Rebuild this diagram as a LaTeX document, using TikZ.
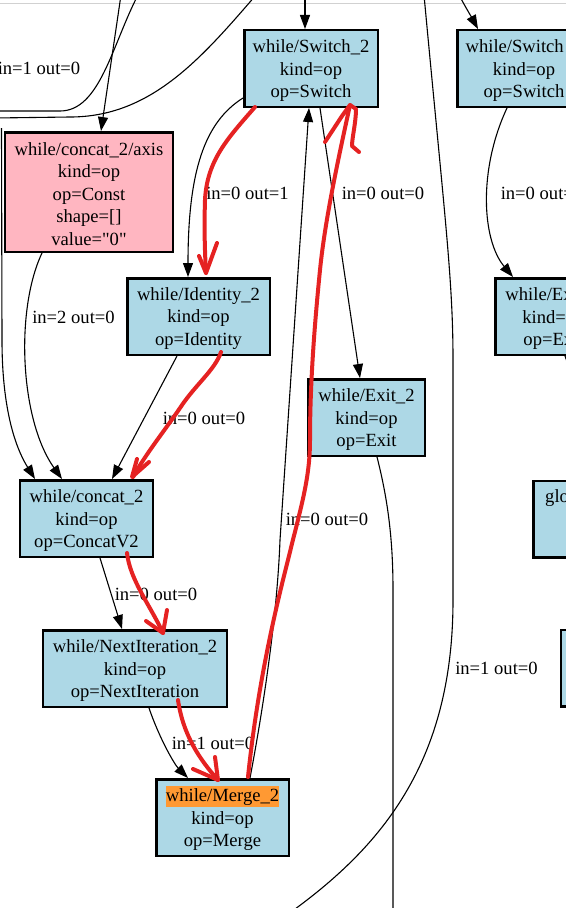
\documentclass[tikz,border=0pt]{standalone}
\usepackage{fontspec}
\setmainfont{Liberation Serif}[Ligatures=TeXOff]
\usetikzlibrary{arrows.meta,calc}
\definecolor{nodeblue}{HTML}{ADD8E6}
\definecolor{nodepink}{HTML}{FFB6C1}
\definecolor{hlorange}{HTML}{FF9933}
\definecolor{penred}{HTML}{E52222}
\setlength{\fboxsep}{0pt}
\newcommand{\tstr}{\rule{0pt}{17bp}}
\begin{document}
\begin{tikzpicture}[x=1bp,y=-1bp,
  opnode/.style={draw=black, line width=2.5bp, fill=nodeblue, align=center, inner sep=0pt,
    minimum height=76.5bp, font=\fontsize{18.6bp}{22.5bp}\selectfont},
  constnode/.style={opnode, fill=nodepink},
  lbl/.style={inner sep=0pt, font=\fontsize{18.6bp}{22.5bp}\selectfont},
  edge/.style={draw=black, line width=1.1bp, -{Triangle[length=14bp,width=10bp]}},
  plainedge/.style={draw=black, line width=1.1bp},
  pen/.style={draw=penred, line width=4bp, line cap=round, line join=round},
]
\useasboundingbox (0,0) rectangle (566,908);
\clip (0,0) rectangle (566,908);
\fill[white] (0,0) rectangle (566,908);
\draw[line width=1bp, draw=black!18] (0,3.5) -- (566,3.5);

% ---------- nodes ----------
\node[opnode, minimum width=133.5bp] (sw2) at (311,68.5) {\tstr while/Switch\_2\\kind=op\\op=Switch};
\node[opnode, minimum width=133.5bp] (sw3) at (524,68.5) {\tstr while/Switch\phantom{\_3}\\kind=op\\op=Switch};
\node[constnode, minimum width=167.5bp, minimum height=119.5bp] (axis) at (89,192) {\tstr while/concat\_2/axis\\kind=op\\op=Const\\shape=[]\\value="0"};
\node[opnode, minimum width=142.5bp] (id2) at (198.5,316.5) {\tstr while/Identity\_2\\kind=op\\op=Identity};
\node[opnode, minimum width=116.5bp] (ex3) at (553.5,316.5) {\tstr while/Ex\phantom{it\_3}\\kind=\phantom{op}\\op=Ex\phantom{it}};
\node[opnode, minimum width=116.5bp] (ex2) at (366.5,417.5) {\tstr while/Exit\_2\\kind=op\\op=Exit};
\node[opnode, minimum width=132.5bp] (c2) at (86.5,518.5) {\tstr while/concat\_2\\kind=op\\op=ConcatV2};
\node[opnode, minimum width=165bp] (glo) at (616,519) {};
\node[lbl, anchor=west] (glotxt) at (545,498) {glo};
\node[opnode, minimum width=183.5bp] (ni2) at (135,668.5) {\tstr while/NextIteration\_2\\kind=op\\op=NextIteration};
\node[opnode, minimum width=140bp] (n4) at (631,668) {};
\node[opnode, minimum width=132.5bp] (mg2) at (222.5,817.5) {\tstr\colorbox{hlorange}{\rule[-5bp]{0pt}{20.5bp}while/Merge\_2}\\kind=op\\op=Merge};

% ---------- free ends ----------
\coordinate (tA) at (121,-5);
\coordinate (tB) at (305,-5);
\coordinate (tC) at (459,-5);
\coordinate (tD) at (424,-5);
\coordinate (tE) at (138,-5);
\coordinate (tF) at (256,-5);
\coordinate (lA) at (-5,111);
\coordinate (lB) at (-5,118);
\coordinate (lC) at (1.5,128);
\coordinate (bD) at (265,930);
\coordinate (bE) at (393,915);
\coordinate (rE) at (572,375);

% ---------- black connectors ----------
\draw[plainedge] (tE) .. controls (112,45) and (100,111) .. (60,111) -- (lA);
\draw[plainedge] (tF) .. controls (200,60) and (150,117) .. (70,117) -- (lB);
\draw[edge] (tA) -- ($(axis.north)+(12,0)$);
\draw[edge] (tB) -- (tB |- sw2.north);
\draw[edge] (tC) .. controls (466,8) and (472,18) .. ($(sw3.north)+(-46,0)$);
\draw[plainedge] (tD) .. controls (445,220) and (453,280) .. (453,360) -- (453,600)
   .. controls (453,775) and (370,860) .. (bD);
\draw[edge] ($(sw2.south west)+(0,-10)$) .. controls (205,122) and (188,170) .. ($(id2.north)+(-10.5,0)$);
\draw[edge] ($(sw2.south)+(9,0)$) -- ($(ex2.north)+(-6.5,0)$);
\draw[edge] ($(mg2.north)+(27.5,0)$) .. controls (262,715) and (277,620) .. (280,540) -- ($(sw2.south)+(-2,0)$);
\draw[edge] ($(sw3.south)+(-17,0)$) .. controls (478,170) and (482,240) .. ($(ex3.north)+(-40.5,0)$);
\draw[plainedge] ($(ex3.south)+(11.5,0)$) -- (rE);
\draw[edge] ($(axis.south)+(-47,0)$) .. controls (15,310) and (20,420) .. ($(c2.north)+(-24.5,0)$);
\draw[edge] (lC) -- (2,340) .. controls (2,420) and (20,455) .. ($(c2.north)+(-51.5,0)$);
\draw[edge] ($(id2.south)+(-21.5,0)$) -- ($(c2.north)+(25.5,0)$);
\draw[edge] ($(c2.south)+(13.5,0)$) -- ($(ni2.north)+(-13,0)$);
\draw[edge] ($(ni2.south)+(14,0)$) .. controls (160,740) and (175,765) .. ($(mg2.north)+(-34.5,0)$);
\draw[plainedge] ($(ex2.south)+(10.5,0)$) .. controls (388,500) and (393,540) .. (393,590) -- (bE);

% ---------- edge labels ----------
\node[lbl] (L1) at (39,68) {in=1 out=0};
\node[lbl] (L2) at (247.5,193) {in=0 out=1};
\node[lbl] (L3) at (383,193) {in=0 out=0};
\node[lbl] (L4) at (542,193) {in=0 out=\phantom{0}};
\node[lbl] (L5) at (73.5,317) {in=2 out=0};
\node[lbl] (L6) at (204,418) {in=0 out=0};
\node[lbl] (L7) at (327,519) {in=0 out=0};
\node[lbl] (L8) at (156,594) {in=0 out=0};
\node[lbl] (L9) at (213,743) {in=1 out=0};
\node[lbl] (L10) at (496.5,668) {in=1 out=0};

% ---------- red hand-drawn arrows ----------
\draw[pen] (255,107) .. controls (228,138) and (207,160) .. (205,200) .. controls (204,230) and (205,255) .. (206,273);
\draw[pen] (199,256) -- (206,273) -- (217,243);
\draw[pen] (221,352) .. controls (215,370) and (195,385) .. (180,408) .. controls (165,430) and (145,455) .. (133,477);
\draw[pen] (137,459) -- (132,477) -- (149,462);
\draw[pen] (127,553) .. controls (130,580) and (150,605) .. (163,633);
\draw[pen] (146,621) -- (163,633) -- (167,610);
\draw[pen] (178,700) .. controls (183,735) and (200,760) .. (218,780);
\draw[pen] (193,769) -- (218,780) -- (215,757);
\draw[pen] (248,777) .. controls (256,700) and (270,630) .. (288,560) .. controls (300,510) and (310,480) .. (310,440)
   .. controls (310,380) and (315,320) .. (320,270) .. controls (325,220) and (338,160) .. (350,105);
\draw[pen] (325,142) -- (342,116) -- (350,105) -- (356,109) .. controls (356,122) and (352,138) .. (352,146) -- (359,152);
\end{tikzpicture}
\end{document}
